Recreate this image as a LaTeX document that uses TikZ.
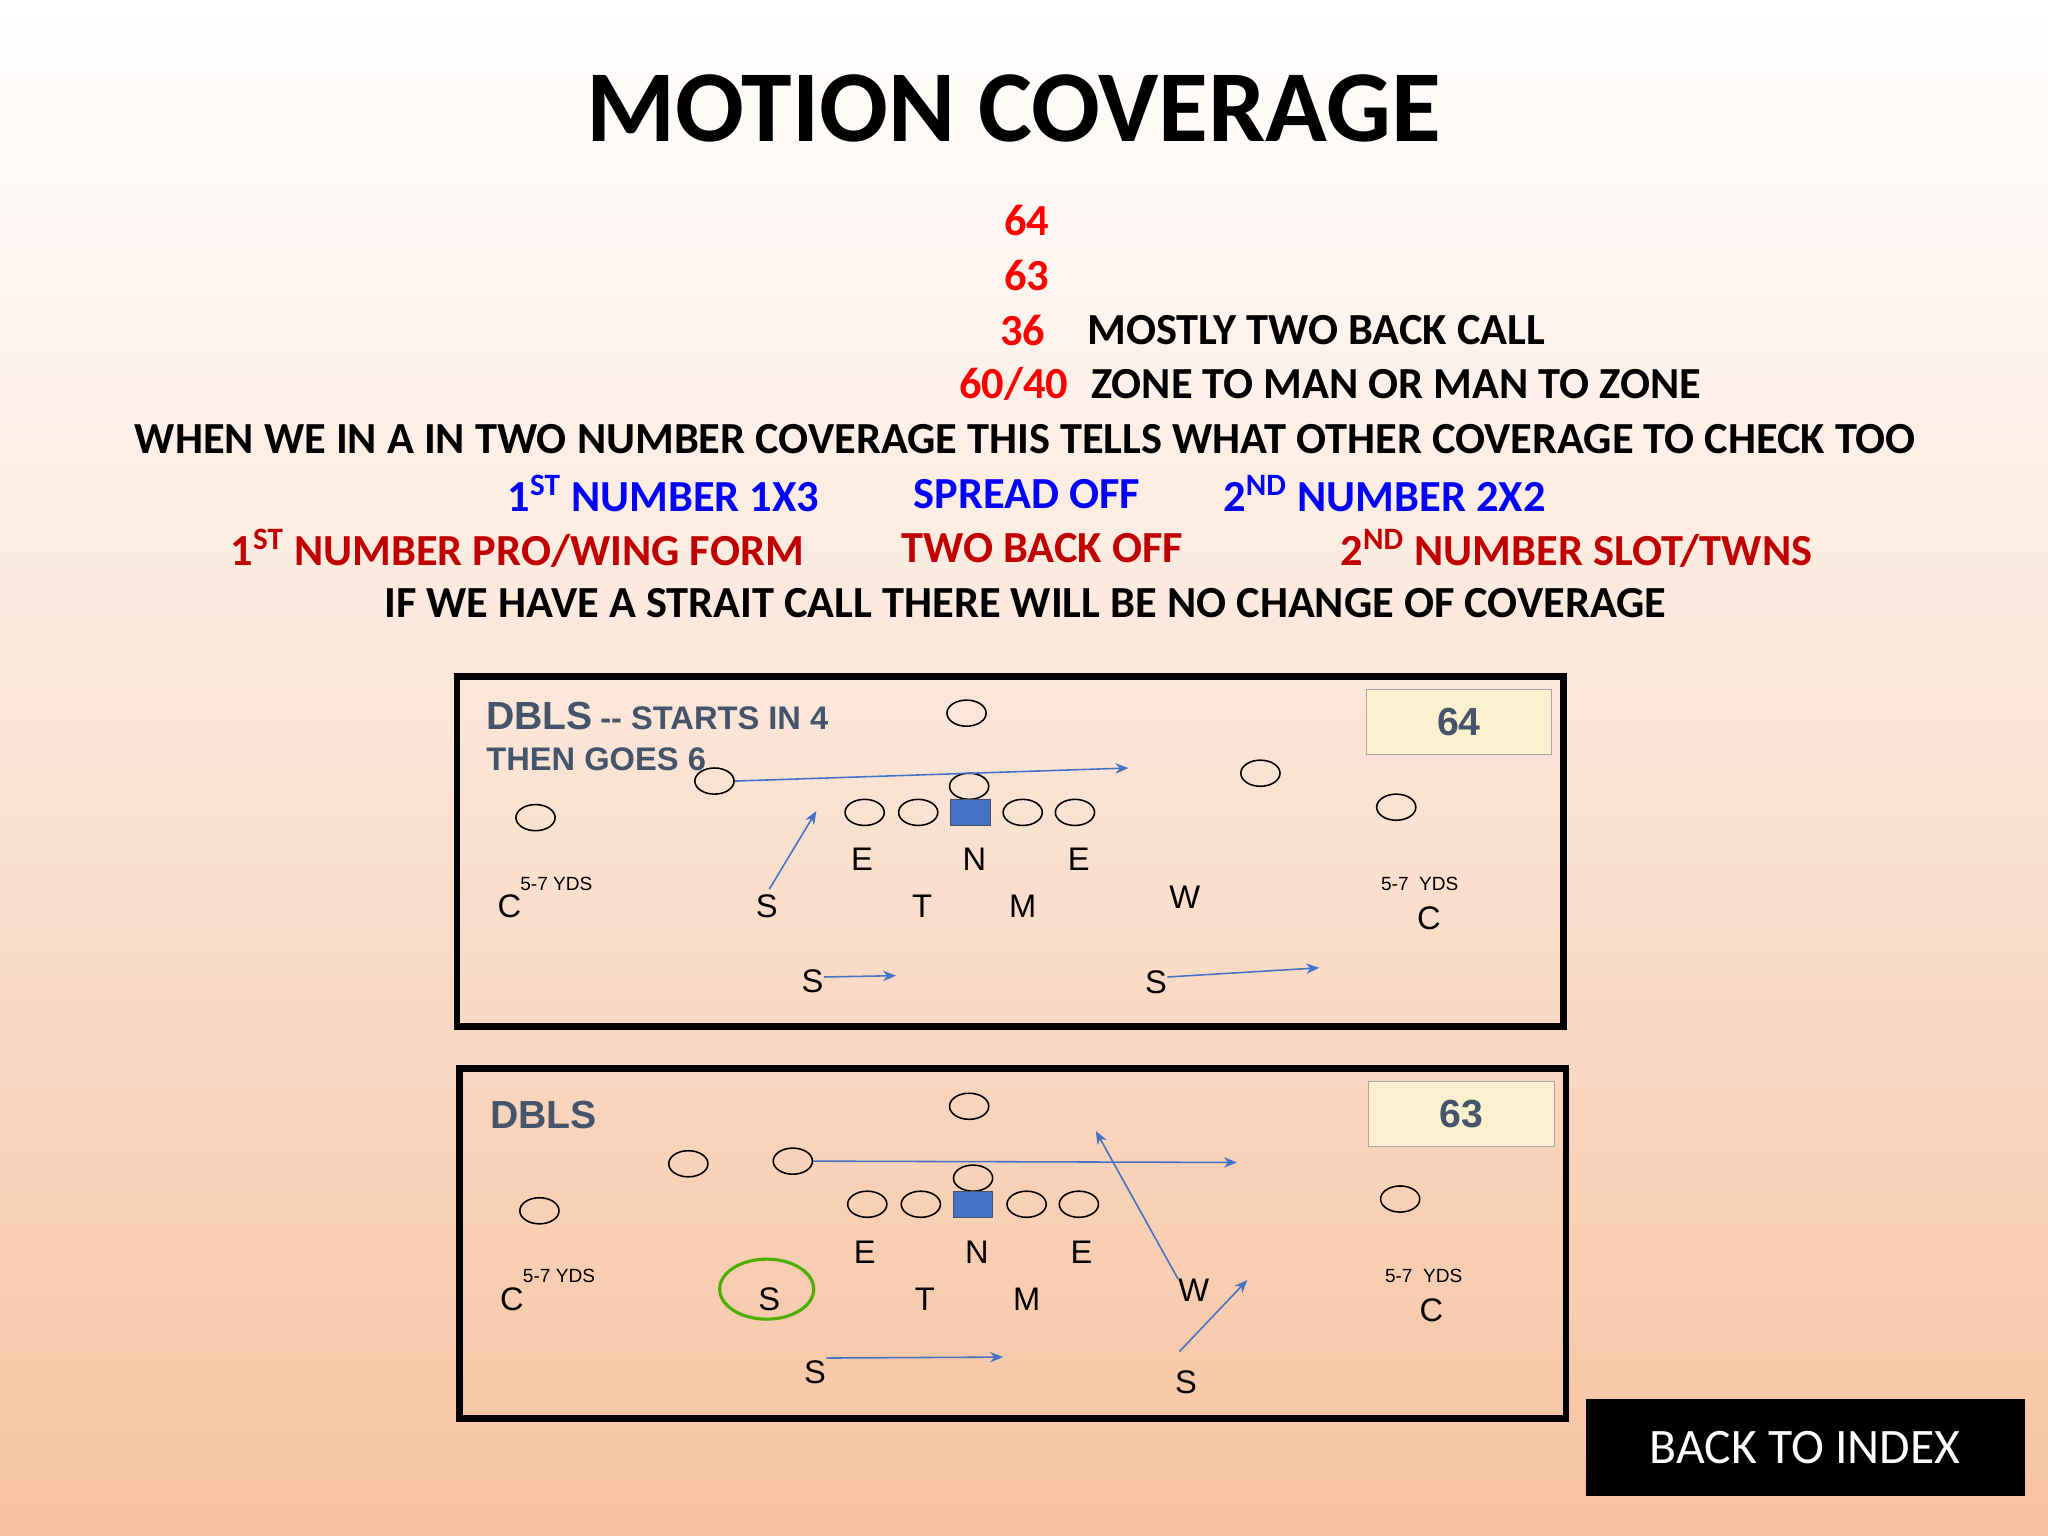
\documentclass[tikz,border=0pt]{standalone}
\usepackage{fontspec}
\setmainfont{Carlito}
\newfontfamily\arialf{Liberation Sans}
\usetikzlibrary{shapes.geometric,arrows.meta}
\definecolor{peach}{HTML}{F6C2A0}
\definecolor{dred}{HTML}{C00000}
\definecolor{slate}{HTML}{44546A}
\definecolor{bluea}{HTML}{4472C4}
\definecolor{pale}{HTML}{FCF0CF}
\tikzset{
 hd/.style={font=\bfseries\fontsize{17}{19}\selectfont,inner sep=0pt},
 ov/.style={ellipse,draw=black,line width=0.6pt,minimum width=15pt,minimum height=10pt,inner sep=0pt},
 sq/.style={rectangle,draw=slate,fill=bluea,minimum width=15pt,minimum height=10pt,inner sep=0pt},
 pl/.style={font=\arialf\fontsize{12.5}{13}\selectfont,inner sep=0pt},
 yd/.style={font=\arialf\fontsize{7.3}{8}\selectfont,inner sep=0pt},
 ar/.style={draw=bluea,line width=0.6pt,-{Stealth[length=5pt,width=4pt]}},
 fld/.style={draw=black,line width=2.5pt},
 num/.style={draw=black!35,fill=pale,minimum width=71pt,minimum height=25pt,font=\arialf\bfseries\fontsize{15}{16}\selectfont,text=slate},
 lbl/.style={font=\arialf\bfseries,text=slate,inner sep=0pt,anchor=west}
}
\begin{document}
\begin{tikzpicture}[x=0.5pt,y=-0.5pt]
\shade[top color=white,bottom color=peach,middle color=peach!45] (0,0) rectangle (1568,1176);
\useasboundingbox (0,0) rectangle (1568,1176);
\node[font=\bfseries\fontsize{39}{44}\selectfont] (title) at (776,83) {MOTION COVERAGE};
\node[hd,text=red] (n64) at (786,169) {64};
\node[hd,text=red] (n63) at (786,211) {63};
\node[hd,text=red] (n36) at (783,253) {36};
\node[hd,anchor=west] (t36) at (832,253) {MOSTLY TWO BACK CALL};
\node[hd,text=red] (n6040) at (776,294) {60/40};
\node[hd,anchor=west] (t6040) at (835,294) {ZONE TO MAN OR MAN TO ZONE};
\node[hd] (l5) at (785,336) {WHEN WE IN A IN TWO NUMBER COVERAGE THIS TELLS WHAT OTHER COVERAGE TO CHECK TOO};
\node[hd,text=blue] (b1) at (508,378) {1\textsuperscript{ST} NUMBER 1X3};
\node[hd,text=blue] (b2) at (786,378) {SPREAD OFF};
\node[hd,text=blue] (b3) at (1060,378) {2\textsuperscript{ND} NUMBER 2X2};
\node[hd,text=dred] (r1) at (396,420) {1\textsuperscript{ST} NUMBER PRO/WING FORM};
\node[hd,text=dred] (r2) at (798,420) {TWO BACK OFF};
\node[hd,text=dred] (r3) at (1207,420) {2\textsuperscript{ND} NUMBER SLOT/TWNS};
\node[hd] (l8) at (785,462) {IF WE HAVE A STRAIT CALL THERE WILL BE NO CHANGE OF COVERAGE};
% box 1
\draw[fld] (350,518) rectangle (1197,786);
\node[num] (k64) at (1117,553) {64};
\node[lbl] (d1) at (372,548) {{\fontsize{15}{16}\selectfont DBLS} {\fontsize{12.5}{13}\selectfont -- STARTS IN 4}};
\node[lbl,font=\arialf\bfseries\fontsize{12.5}{13}\selectfont] (d1b) at (372,581) {THEN GOES 6};
\node[ov] (a1) at (740,546) {};
\node[ov] (a2) at (547,598) {};
\node[ov] (a3) at (965,592) {};
\node[ov] (a4) at (410,626) {};
\node[ov] (a5) at (1069,618) {};
\node[ov] (a6) at (742,602) {};
\node[ov] (a7) at (662,622) {};
\node[ov] (a8) at (703,622) {};
\node[ov] (a9) at (783,622) {};
\node[ov] (a10) at (823,622) {};
\node[sq] (c1) at (743,622) {};
\node[pl] (e1) at (660,658) {E};
\node[pl] (n1) at (746,658) {N};
\node[pl] (e2) at (826,658) {E};
\node[pl] (cc1) at (390,694) {C};
\node[yd] (y1) at (426,677) {5-7 YDS};
\node[pl] (s1) at (587,694) {S};
\node[pl] (t1) at (706,694) {T};
\node[pl] (m1) at (783,694) {M};
\node[pl] (w1) at (907,687) {W};
\node[yd] (y2) at (1087,677) {5-7\ \ YDS};
\node[pl] (cc2) at (1094,703) {C};
\node[pl] (s2) at (622,751) {S};
\node[pl] (s3) at (885,752) {S};
\coordinate (p1) at (864,588);
\coordinate (p2) at (625,621);
\coordinate (p3) at (686,747);
\coordinate (p4) at (1010,741);
\draw[ar] (a2.east) -- (p1);
\draw[ar] (s1.north) ++(2,-4) -- (p2);
\draw[ar] (s2.east) ++(0,-3) -- (p3);
\draw[ar] (s3.east) ++(0,-4) -- (p4);
% box 2
\draw[fld] (352,818) rectangle (1199,1086);
\node[num] (k63) at (1119,853) {63};
\node[lbl,font=\arialf\bfseries\fontsize{15}{16}\selectfont] (d2) at (375,854) {DBLS};
\node[ov] (b1o) at (742,847) {};
\node[ov] (b2o) at (527,891) {};
\node[ov] (b3o) at (607,889) {};
\node[ov] (b4o) at (413,927) {};
\node[ov] (b5o) at (1072,918) {};
\node[ov] (b6o) at (745,902) {};
\node[ov] (b7o) at (664,922) {};
\node[ov] (b8o) at (705,922) {};
\node[ov] (b9o) at (786,922) {};
\node[ov] (b10o) at (826,922) {};
\node[sq] (c2) at (745,922) {};
\node[pl] (e3) at (662,959) {E};
\node[pl] (n2) at (748,959) {N};
\node[pl] (e4) at (828,959) {E};
\node[pl] (cc3) at (392,995) {C};
\node[yd] (y3) at (428,977) {5-7 YDS};
\node[pl] (s4) at (589,995) {S};
\draw[draw=green!55!black!70!yellow,line width=1.2pt] (587,987) ellipse (36 and 23);
\node[pl] (t2) at (708,995) {T};
\node[pl] (m2) at (786,995) {M};
\node[pl] (w2) at (914,988) {W};
\node[yd] (y4) at (1090,977) {5-7\ \ YDS};
\node[pl] (cc4) at (1096,1003) {C};
\node[pl] (s5) at (624,1051) {S};
\node[pl] (s6) at (908,1058) {S};
\coordinate (q1) at (947,890);
\coordinate (q2) at (839,866);
\coordinate (q3) at (768,1039);
\coordinate (q4) at (955,980);
\draw[ar] (b3o.east) -- (q1);
\draw[ar] (w2.north west) -- (q2);
\draw[ar] (s5.north east) ++(0,-2) -- (q3);
\draw[ar] (s6.north) ++(-5,-14) -- (q4);
% back to index
\node[fill=black,text=white,minimum width=168pt,minimum height=37pt,font=\fontsize{19}{21}\selectfont] (back) at (1382,1108) {BACK TO INDEX};
\end{tikzpicture}
\end{document}
